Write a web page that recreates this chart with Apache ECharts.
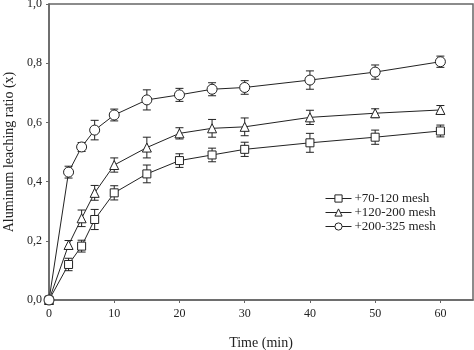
<!DOCTYPE html>
<html>
<head>
<meta charset="utf-8">
<script src="https://cdn.jsdelivr.net/npm/echarts@6/dist/echarts.min.js"></script>
<style>
  html, body { margin: 0; padding: 0; background: #fff; }
  #chart { width: 474px; height: 350px; }
</style>
</head>
<body>
<div id="chart"></div>
<script>
// 时间点 (min)
const times = [0, 3, 5, 7, 10, 15, 20, 25, 30, 40, 50, 60]
const seriesNames = ['+70-120 mesh', '+120-200 mesh', '+200-325 mesh']

// 浸出率
const mesh70 = [0, 0.12, 0.182, 0.272, 0.362, 0.426, 0.471, 0.49, 0.509, 0.531, 0.55, 0.571]
const mesh120 = [0, 0.186, 0.276, 0.362, 0.456, 0.515, 0.563, 0.58, 0.585, 0.617, 0.631, 0.642]
const mesh200 = [0, 0.432, 0.517, 0.574, 0.625, 0.676, 0.693, 0.712, 0.718, 0.743, 0.77, 0.805]

// 误差 (±)
const err70 = [0, 0.021, 0.02, 0.034, 0.024, 0.03, 0.023, 0.023, 0.024, 0.032, 0.024, 0.02]
const err120 = [0, 0.015, 0.028, 0.025, 0.024, 0.035, 0.019, 0.03, 0.03, 0.024, 0.015, 0.015]
const err200 = [0, 0.02, 0.015, 0.033, 0.02, 0.034, 0.022, 0.022, 0.023, 0.031, 0.024, 0.019]

const xTicks = [0, 10, 20, 30, 40, 50, 60]

const font = '"Liberation Serif", "DejaVu Serif", serif'
const ink = '#222'
const axisColor = '#666'

const chart = echarts.init(document.getElementById('chart'))

const lineSeries = (name, values, symbol, size) => ({
  name: name,
  type: 'line',
  data: times.map((t, i) => [t, values[i]]),
  symbol: symbol,
  symbolSize: size,
  showAllSymbol: true,
  z: 3,
  lineStyle: { color: ink, width: 1 },
  itemStyle: { color: '#fff', borderColor: ink, borderWidth: 1 }
})

const errorSeries = (values, errs) => ({
  type: 'custom',
  z: 2,
  silent: true,
  data: times.map((t, i) => [t, values[i] - errs[i], values[i] + errs[i]]),
  renderItem: (params, api) => {
    const lo = api.coord([api.value(0), api.value(1)])
    const hi = api.coord([api.value(0), api.value(2)])
    const w = 4
    const style = { stroke: ink, lineWidth: 1 }
    return {
      type: 'group',
      children: [
        { type: 'line', shape: { x1: lo[0], y1: lo[1], x2: hi[0], y2: hi[1] }, style },
        { type: 'line', shape: { x1: lo[0] - w, y1: lo[1], x2: lo[0] + w, y2: lo[1] }, style },
        { type: 'line', shape: { x1: hi[0] - w, y1: hi[1], x2: hi[0] + w, y2: hi[1] }, style }
      ]
    }
  }
})

const options = {
  animation: false,
  backgroundColor: '#fff',
  textStyle: { fontFamily: font },
  grid: {
    left: 49,
    right: 1,
    top: 4,
    bottom: 50,
    show: true,
    borderColor: axisColor,
    borderWidth: 1.5,
    containLabel: false,
    outerBoundsMode: 'none'
  },
  legend: {
    orient: 'vertical',
    left: 320,
    top: 187,
    itemWidth: 26,
    itemHeight: 9,
    itemGap: 1,
    data: seriesNames,
    itemStyle: { color: '#fff', borderColor: ink, borderWidth: 1 },
    lineStyle: { color: ink, width: 1 },
    textStyle: { fontFamily: font, fontSize: 13, color: ink, padding: [0, 0, 0, -2] }
  },
  xAxis: {
    type: 'value',
    min: 0,
    max: 65,
    interval: 10,
    name: 'Time (min)',
    nameLocation: 'middle',
    nameGap: 36,
    nameTextStyle: { fontFamily: font, fontSize: 14, color: ink },
    splitLine: { show: false },
    axisLine: { lineStyle: { color: axisColor, width: 1.5 } },
    axisTick: { length: 3, customValues: xTicks, lineStyle: { color: axisColor } },
    axisLabel: { customValues: xTicks, fontFamily: font, fontSize: 12, color: ink, margin: 8 }
  },
  yAxis: {
    type: 'value',
    min: 0,
    max: 1,
    interval: 0.2,
    name: 'Aluminum leaching ratio (x)',
    nameLocation: 'middle',
    nameGap: 33,
    nameTextStyle: { fontFamily: font, fontSize: 14, color: ink },
    splitLine: { show: false },
    axisLine: { lineStyle: { color: axisColor, width: 1.5 } },
    axisTick: { length: 3, lineStyle: { color: axisColor } },
    axisLabel: {
      fontFamily: font,
      fontSize: 12,
      color: ink,
      margin: 7,
      formatter: v => v.toFixed(1).replace('.', ',')
    }
  },
  series: [
    errorSeries(mesh70, err70),
    errorSeries(mesh120, err120),
    errorSeries(mesh200, err200),
    lineSeries(seriesNames[0], mesh70, 'rect', 8),
    lineSeries(seriesNames[1], mesh120, 'triangle', 9),
    lineSeries(seriesNames[2], mesh200, 'circle', 10)
  ]
}

chart.setOption(options)

window.addEventListener('resize', () => {
  chart.resize()
})
</script>
</body>
</html>
